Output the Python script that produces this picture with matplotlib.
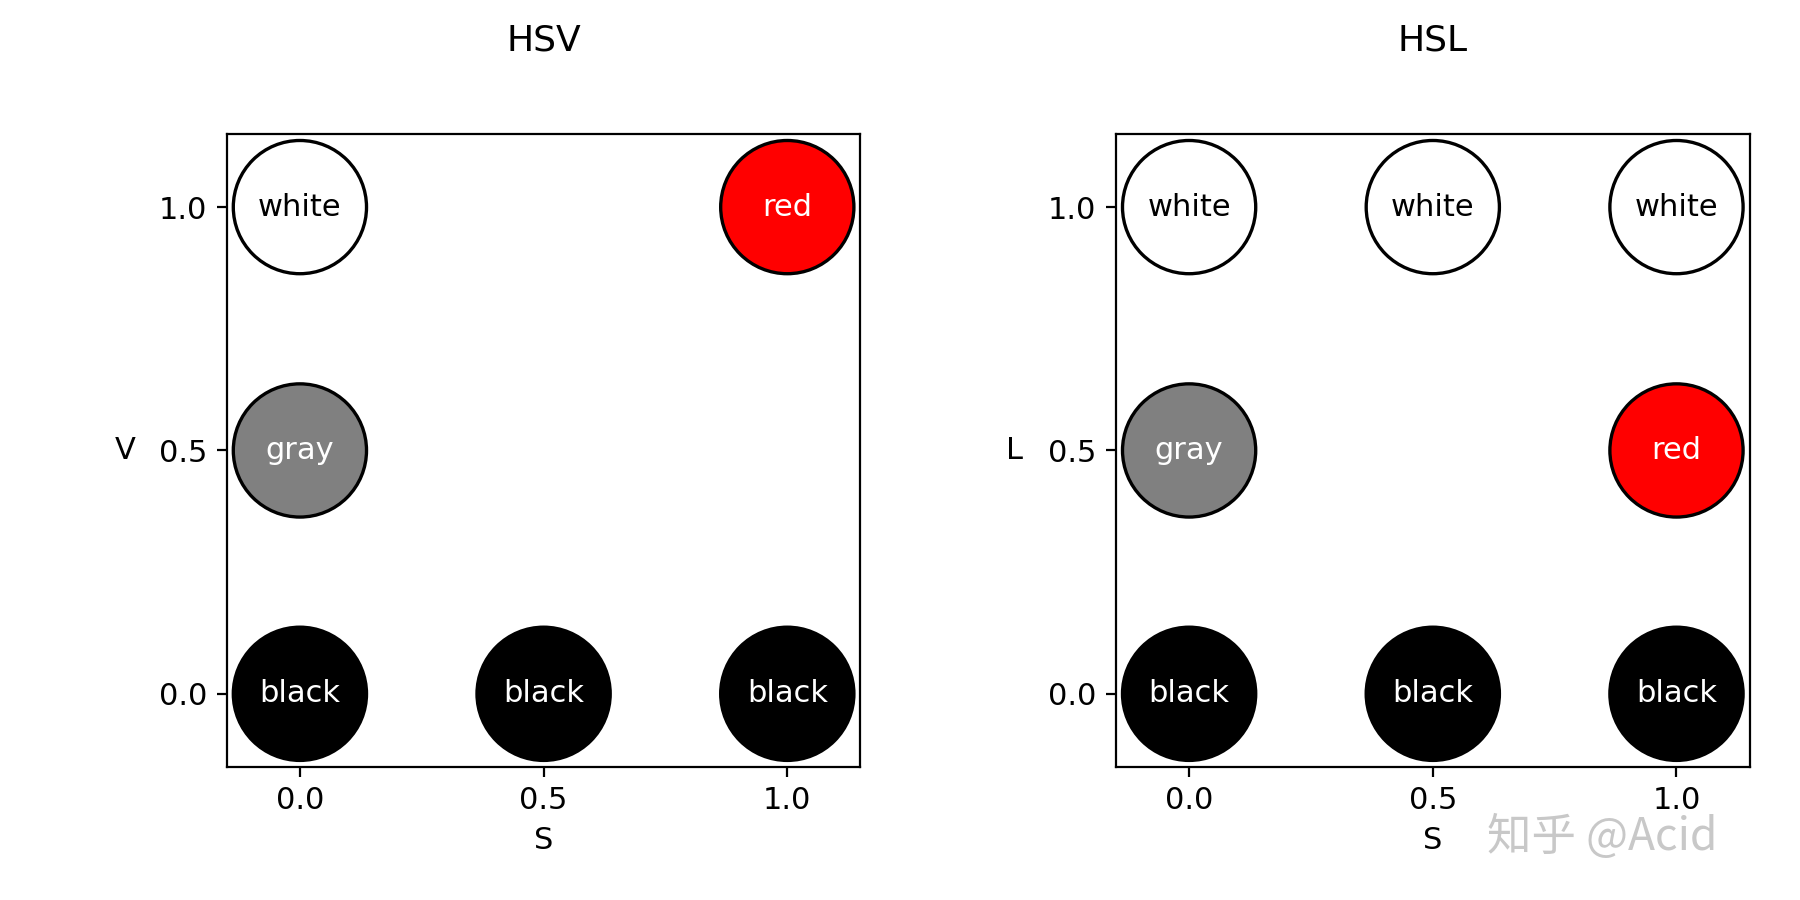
import matplotlib.pyplot as plt

plt.rcParams['font.family'] = ['DejaVu Sans', 'Noto Sans CJK SC']

# HSV panel: (S, V) points
hsv_s = [0.0, 1.0, 0.0, 0.0, 0.5, 1.0]
hsv_v = [1.0, 1.0, 0.5, 0.0, 0.0, 0.0]
hsv_names = ['white', 'red', 'gray', 'black', 'black', 'black']

# HSL panel: (S, L) points
hsl_s = [0.0, 0.5, 1.0, 0.0, 1.0, 0.0, 0.5, 1.0]
hsl_l = [1.0, 1.0, 1.0, 0.5, 0.5, 0.0, 0.0, 0.0]
hsl_names = ['white', 'white', 'white', 'gray', 'red', 'black', 'black', 'black']

fig = plt.figure(figsize=(9, 4.5), dpi=200)
ax1 = fig.add_axes([0.126, 0.148, 0.352, 0.703])
ax2 = fig.add_axes([0.620, 0.148, 0.352, 0.703])


def draw(ax, xs, ys, names, title, ylabel):
    ax.scatter(xs, ys, s=2300, c=names, edgecolors='black', linewidths=1.2, zorder=2)
    for x, y, n in zip(xs, ys, names):
        ax.text(x, y, n, ha='center', va='center', fontsize=11,
                color='black' if n == 'white' else 'white', zorder=3)
    ax.set_xlim(-0.15, 1.15)
    ax.set_ylim(-0.15, 1.15)
    ax.set_xticks([0.0, 0.5, 1.0])
    ax.set_yticks([0.0, 0.5, 1.0])
    ax.tick_params(labelsize=11)
    ax.set_xlabel('S', fontsize=11)
    ax.set_ylabel(ylabel, rotation=0, fontsize=11, labelpad=12, va='center')
    ax.set_title(title, fontsize=13, pad=30)


draw(ax1, hsv_s, hsv_v, hsv_names, 'HSV', 'V')
draw(ax2, hsl_s, hsl_l, hsl_names, 'HSL', 'L')

fig.text(0.89, 0.07, '知乎 @Acid', fontsize=16, color='#c8c8c8', ha='center', va='center',
         family=['Noto Sans CJK SC', 'DejaVu Sans'])

fig.savefig('out.png', dpi=200)
